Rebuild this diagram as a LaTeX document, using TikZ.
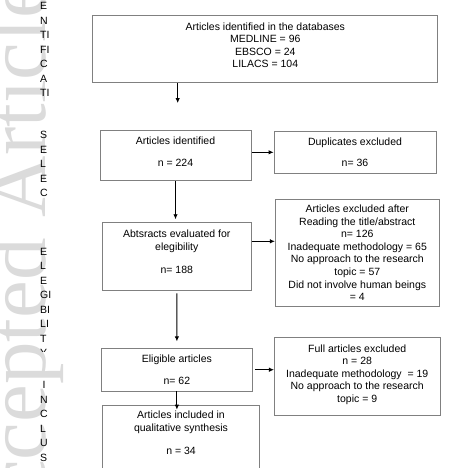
\documentclass[tikz,border=0pt]{standalone}
\usepackage{fontspec}
\setmainfont{Liberation Sans}
\newfontfamily\wmfont{Liberation Serif}
\usetikzlibrary{arrows.meta}

\tikzset{
  box/.style={draw=black!50, line width=0.8pt, align=center, inner sep=2pt,
    font=\fontsize{10.5}{12.6}\selectfont},
  stage/.style={anchor=north west, align=left, inner sep=0pt,
    font=\fontsize{10.5}{14.5}\selectfont},
  arr/.style={->, line width=0.9pt},
}

\begin{document}
\begin{tikzpicture}[x=1pt, y=-1pt, >={Latex[length=5pt,width=4.5pt]}]
  % 1. 画布与水印 (置于底层)
  \useasboundingbox (0,0) rectangle (474,467);
  \clip (0,0) rectangle (474,467);
  \fill[white] (0,0) rectangle (474,467);
  \node[rotate=90, anchor=base east, inner sep=0pt, text=black!14,
    font=\wmfont\fontsize{85}{90}\selectfont] (wm) at (45,-19) {Accepted Article};

  % 2. 左侧阶段字母 (被裁切)
  \begin{scope}
    \clip (30,0) rectangle (70,95);
    \node[stage] (ident) at (40,2.3) {E\\N\\TI\\FI\\C\\A\\TI};
  \end{scope}
  \node[stage] (selec) at (40,131) {S\\E\\L\\E\\C};
  \begin{scope}
    \clip (30,240) rectangle (70,351.5);
    \node[stage] (elegi) at (40,247.9) {E\\L\\E\\GI\\BI\\LI\\T\\Y};
  \end{scope}
  \node[stage] (inclu) at (40,381.2) {\hspace*{2.5pt}I\\N\\C\\L\\U\\S};

  % 3. 流程框
  \node[box, minimum width=345, minimum height=67] (db) at (265.3,49.2)
    {Articles identified in the databases\\MEDLINE = 96\\EBSCO = 24\\LILACS = 104\\[-4.6pt]\mbox{}};
  \node[box, minimum width=151, minimum height=50.7] (found) at (175.5,155.3)
    {Articles identified\\[9.4pt]n = 224\\[-4.6pt]\mbox{}};
  \node[box, minimum width=162, minimum height=42] (dup) at (355,152.3)
    {Duplicates excluded\\[8.4pt]n= 36};
  \node[box, minimum width=149, minimum height=67.3] (abs) at (176.8,256.3)
    {Abtsracts evaluated for\\elegibility\\[10pt]n= 188\\[-3.2pt]\mbox{}};
  \node[box, minimum width=164, minimum height=106.7] (excl) at (357.3,252.7)
    {Articles excluded after\\Reading the title/abstract\\n= 126\\Inadequate methodology = 65\\No approach to the research\\topic = 57\\Did not involve human beings\\= 4};
  \node[box, minimum width=151.7, minimum height=42.7] (elig) at (176.9,369.7)
    {Eligible articles\\[10pt]n= 62};
  \node[box, minimum width=165.7, minimum height=78.4] (full) at (357.2,376.5)
    {Full articles excluded\\n = 28\\Inadequate methodology\ \ = 19\\No approach to the research\\topic = 9\\[-6.6pt]\mbox{}};
  \node[box, minimum width=156.6, minimum height=82] (incl) at (181,446)
    {Articles included in\\qualitative synthesis\\[10pt]n = 34\\[14pt]\mbox{}};

  % 4. 连接箭头
  \coordinate (dbend) at (177.7,103);
  \draw[arr] (db.south -| dbend) -- (dbend);
  \draw[arr] (found.south) -- ([yshift=3pt]abs.north -| found.south);
  \draw[arr] ([xshift=1pt]found.east |- dup.west) -- (dup.west);
  \draw[arr] ([yshift=15pt]abs.east) -- ([yshift=15pt]abs.east -| excl.west);
  \draw[arr] ([yshift=-3pt]abs.south) -- ([yshift=6.6pt]elig.north);
  \draw[arr] ([xshift=1.6pt]elig.east) -- (elig.east -| full.west);
  \draw[arr] (elig.south) -- ([yshift=-5pt]elig.south |- incl.north);
\end{tikzpicture}
\end{document}
